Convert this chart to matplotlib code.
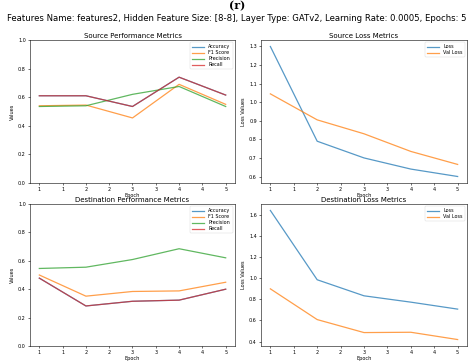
import matplotlib
matplotlib.use("Agg")
import matplotlib.pyplot as plt
from matplotlib.ticker import FuncFormatter

epochs = [1, 2, 3, 4, 5]

src_accuracy = [0.61, 0.61, 0.535, 0.74, 0.615]
src_f1 = [0.54, 0.545, 0.455, 0.69, 0.55]
src_precision = [0.535, 0.54, 0.62, 0.675, 0.535]
src_recall = [0.61, 0.61, 0.535, 0.74, 0.615]

src_loss = [1.30, 0.79, 0.70, 0.64, 0.60]
src_val_loss = [1.045, 0.905, 0.83, 0.735, 0.665]

dst_accuracy = [0.478, 0.282, 0.315, 0.323, 0.40]
dst_f1 = [0.50, 0.351, 0.384, 0.388, 0.449]
dst_precision = [0.546, 0.555, 0.609, 0.685, 0.621]
dst_recall = [0.478, 0.282, 0.315, 0.323, 0.40]

dst_loss = [1.641, 0.985, 0.833, 0.773, 0.707]
dst_val_loss = [0.899, 0.608, 0.485, 0.488, 0.419]

perf_labels = ["Accuracy", "F1 Score", "Precision", "Recall"]
loss_labels = ["Loss", "Val Loss"]

colors = ["#1f77b4", "#ff7f0e", "#2ca02c", "#d62728"]

fs_tick = 3.5
fs_lab = 3.6
fs_title = 5.0

fig = plt.figure(figsize=(4.74, 3.61), dpi=100)
fig.text(0.5, 0.998, "(r)", ha="center", va="top", fontsize=8, fontweight="bold", family="DejaVu Serif")
fig.text(0.5, 0.949, "Features Name: features2, Hidden Feature Size: [8-8], Layer Type: GATv2, Learning Rate: 0.0005, Epochs: 5",
         ha="center", va="center", fontsize=6.15)

def int_fmt(x, pos):
    return f"{int(x)}"

boxes = [
    (30/474, 1 - 183/361, 205/474, 143/361),
    (261/474, 1 - 183/361, 206/474, 143/361),
    (30/474, 1 - 346/361, 205/474, 142/361),
    (261/474, 1 - 346/361, 206/474, 142/361),
]

def style(ax, title, ylabel):
    ax.set_title(title, fontsize=fs_title, pad=1.2)
    ax.set_xlabel("Epoch", fontsize=fs_lab, labelpad=0.8)
    ax.set_ylabel(ylabel, fontsize=fs_lab, labelpad=2)
    ax.tick_params(labelsize=fs_tick, length=1.5, width=0.4, pad=1.5)
    ax.xaxis.set_major_formatter(FuncFormatter(int_fmt))
    for s in ax.spines.values():
        s.set_linewidth(0.4)
    ax.legend(fontsize=fs_tick, loc="upper right", frameon=True, handlelength=2.5,
              borderpad=0.4, labelspacing=0.2, framealpha=0.8, edgecolor="#cccccc").get_frame().set_linewidth(0.3)

ax1 = fig.add_axes(boxes[0])
for vals, lab, c in zip([src_accuracy, src_f1, src_precision, src_recall], perf_labels, colors):
    ax1.plot(epochs, vals, color=c, label=lab, lw=0.9, alpha=0.75)
ax1.set_ylim(0, 1.0)
style(ax1, "Source Performance Metrics", "Values")

ax2 = fig.add_axes(boxes[1])
for vals, lab, c in zip([src_loss, src_val_loss], loss_labels, colors[:2]):
    ax2.plot(epochs, vals, color=c, label=lab, lw=0.9, alpha=0.75)
style(ax2, "Source Loss Metrics", "Loss Values")

ax3 = fig.add_axes(boxes[2])
for vals, lab, c in zip([dst_accuracy, dst_f1, dst_precision, dst_recall], perf_labels, colors):
    ax3.plot(epochs, vals, color=c, label=lab, lw=0.9, alpha=0.75)
ax3.set_ylim(0, 1.0)
style(ax3, "Destination Performance Metrics", "Values")

ax4 = fig.add_axes(boxes[3])
for vals, lab, c in zip([dst_loss, dst_val_loss], loss_labels, colors[:2]):
    ax4.plot(epochs, vals, color=c, label=lab, lw=0.9, alpha=0.75)
style(ax4, "Destination Loss Metrics", "Loss Values")

fig.savefig("out.png", dpi=100)
